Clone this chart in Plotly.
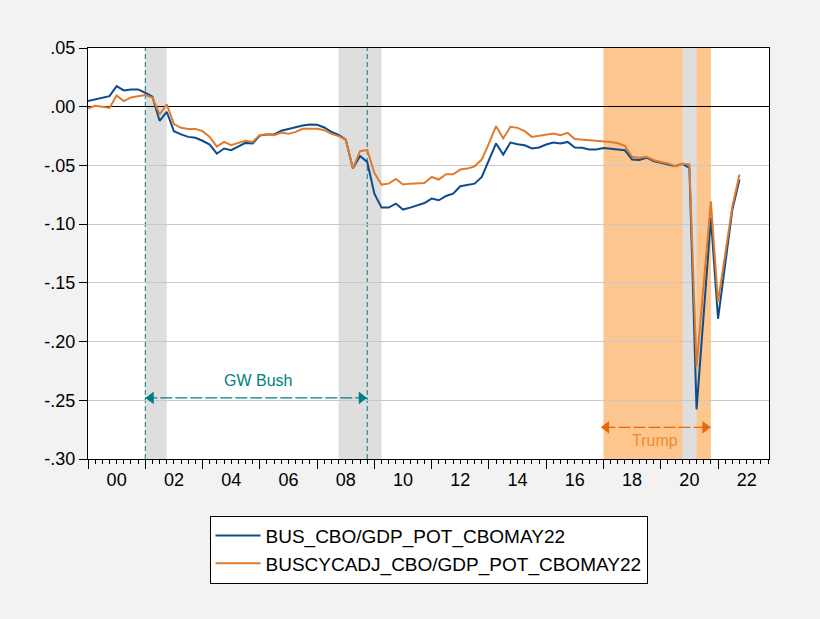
import plotly.graph_objects as go

# ---------------- data ----------------
start_year = 1999
end_year = 2021
quarters = [y + q / 4 for y in range(start_year, end_year + 1) for q in range(4)]

bus_cbo = [
    0.0048, 0.0062, 0.0071, 0.0090,
    0.0176, 0.0139, 0.0147, 0.0147,
    0.0119, 0.0085, -0.0120, -0.0043,
    -0.0208, -0.0236, -0.0257, -0.0265,
    -0.0290, -0.0322, -0.0400, -0.0356,
    -0.0370, -0.0340, -0.0308, -0.0313,
    -0.0245, -0.0236, -0.0236, -0.0205,
    -0.0188, -0.0177, -0.0160, -0.0151,
    -0.0154, -0.0177, -0.0214, -0.0240,
    -0.0280, -0.0526, -0.0419, -0.0470,
    -0.0740, -0.0859, -0.0859, -0.0825,
    -0.0876, -0.0859, -0.0842, -0.0820,
    -0.0782, -0.0797, -0.0760, -0.0740,
    -0.0677, -0.0666, -0.0655, -0.0598,
    -0.0450, -0.0313, -0.0407, -0.0305,
    -0.0319, -0.0328, -0.0356, -0.0347,
    -0.0322, -0.0305, -0.0313, -0.0300,
    -0.0347, -0.0350, -0.0365, -0.0365,
    -0.0352, -0.0357, -0.0363, -0.0371,
    -0.0449, -0.0454, -0.0434, -0.0463,
    -0.0477, -0.0491, -0.0506, -0.0486,
    -0.0520, -0.2577, -0.1750, -0.0949,
    -0.1806, -0.1350, -0.0877, -0.0620,
]

buscycadj_cbo = [
    -0.0015, 0.0008, 0.0000, -0.0010,
    0.0096, 0.0048, 0.0079, 0.0090,
    0.0099, 0.0079, -0.0066, 0.0020,
    -0.0148, -0.0180, -0.0189, -0.0189,
    -0.0208, -0.0257, -0.0340, -0.0300,
    -0.0328, -0.0308, -0.0290, -0.0300,
    -0.0240, -0.0236, -0.0242, -0.0220,
    -0.0231, -0.0214, -0.0188, -0.0188,
    -0.0188, -0.0200, -0.0231, -0.0250,
    -0.0280, -0.0526, -0.0379, -0.0368,
    -0.0564, -0.0663, -0.0655, -0.0615,
    -0.0663, -0.0655, -0.0655, -0.0649,
    -0.0598, -0.0620, -0.0575, -0.0575,
    -0.0535, -0.0527, -0.0507, -0.0450,
    -0.0313, -0.0166, -0.0270, -0.0171,
    -0.0180, -0.0208, -0.0257, -0.0248,
    -0.0242, -0.0228, -0.0242, -0.0223,
    -0.0276, -0.0280, -0.0285, -0.0293,
    -0.0291, -0.0300, -0.0311, -0.0334,
    -0.0426, -0.0434, -0.0426, -0.0454,
    -0.0471, -0.0483, -0.0506, -0.0486,
    -0.0491, -0.2214, -0.1506, -0.0806,
    -0.1663, -0.1250, -0.0849, -0.0577,
]

series_names = ["BUS_CBO/GDP_POT_CBOMAY22", "BUSCYCADJ_CBO/GDP_POT_CBOMAY22"]

# recessions (start, end) in decimal years (quarter positions)
recessions = [(2001.0, 2001.75), (2007.75, 2009.25), (2019.75, 2020.25)]
# administrations
bush_term = (2001.0, 2008.75)
trump_term = (2017.0, 2020.75)
bush_arrow_y = -0.248
trump_arrow_y = -0.273
bush_label = "GW Bush"
trump_label = "Trump"
bush_label_pos = (2004.93, -0.233)
trump_label_pos = (2018.8, -0.2845)

x_label_years = list(range(2000, 2023, 2))
x_label_text = [f"{y % 100:02d}" for y in x_label_years]
x_major_years = list(range(1999, 2023, 2))
y_tick_vals = [0.05, 0.0, -0.05, -0.10, -0.15, -0.20, -0.25, -0.30]
y_tick_text = [".05", ".00", "-.05", "-.10", "-.15", "-.20", "-.25", "-.30"]

# ---------------- styles ----------------
BLUE = "#0d4c8c"
ORANGE = "#e07b2d"
TEAL = "#008080"
TRUMP_FILL = "#fdc68f"
TRUMP_ARROW = "#e36c0a"
TRUMP_TEXT = "#f28c28"
REC_GRAY = "#dedede"
FONT = "Liberation Sans, Arial, sans-serif"
x_range = [1999.0, 2022.78]
minor_ticks = [start_year + i / 4 for i in range(int((x_range[1] - start_year) * 4) + 1)]
head_off = 0.2  # marker half-width in years
ARROW_DASH = "12px,3px"

fig = go.Figure()

fig.add_trace(go.Scatter(x=quarters, y=bus_cbo, mode="lines", name=series_names[0],
                         line=dict(color=BLUE, width=2)))
fig.add_trace(go.Scatter(x=quarters, y=buscycadj_cbo, mode="lines", name=series_names[1],
                         line=dict(color=ORANGE, width=2)))

# Bush double arrow
fig.add_trace(go.Scatter(x=[bush_term[0], bush_term[1]], y=[bush_arrow_y, bush_arrow_y],
                         mode="lines", line=dict(color=TEAL, width=1.3, dash=ARROW_DASH),
                         showlegend=False, hoverinfo="skip"))
fig.add_trace(go.Scatter(x=[bush_term[0] + head_off, bush_term[1] - head_off],
                         y=[bush_arrow_y, bush_arrow_y], mode="markers",
                         marker=dict(symbol=["triangle-left", "triangle-right"], size=11, color=TEAL),
                         showlegend=False, hoverinfo="skip"))
# Trump double arrow
fig.add_trace(go.Scatter(x=[trump_term[0], trump_term[1]], y=[trump_arrow_y, trump_arrow_y],
                         mode="lines", line=dict(color=TRUMP_ARROW, width=1.3, dash=ARROW_DASH),
                         showlegend=False, hoverinfo="skip"))
fig.add_trace(go.Scatter(x=[trump_term[0] + head_off - 0.1, trump_term[1] - head_off],
                         y=[trump_arrow_y, trump_arrow_y], mode="markers",
                         marker=dict(symbol=["triangle-left", "triangle-right"], size=11, color=TRUMP_ARROW),
                         showlegend=False, hoverinfo="skip"))

# invisible trace for overlay axis (major ticks)
fig.add_trace(go.Scatter(x=[x_range[0]], y=[0.0], xaxis="x2", mode="markers",
                         marker=dict(opacity=0), showlegend=False, hoverinfo="skip"))

shapes = []
shapes.append(dict(type="rect", xref="x", yref="paper", x0=trump_term[0], x1=trump_term[1],
                   y0=0, y1=1, fillcolor=TRUMP_FILL, line=dict(width=0), layer="below"))
for r0, r1 in recessions:
    shapes.append(dict(type="rect", xref="x", yref="paper", x0=r0, x1=r1, y0=0, y1=1,
                       fillcolor=REC_GRAY, line=dict(width=0), layer="below"))
for xv in bush_term:
    shapes.append(dict(type="line", xref="x", yref="paper", x0=xv, x1=xv, y0=0, y1=1,
                       line=dict(color=TEAL, width=1, dash="5px,3px"), layer="between"))

annotations = [
    dict(x=bush_label_pos[0], y=bush_label_pos[1], text=bush_label, showarrow=False,
         font=dict(color=TEAL, size=16, family=FONT)),
    dict(x=trump_label_pos[0], y=trump_label_pos[1], text=trump_label, showarrow=False,
         font=dict(color=TRUMP_TEXT, size=16, family=FONT)),
]

fig.update_layout(
    width=820, height=619,
    margin=dict(l=88, r=51, t=48, b=160),
    paper_bgcolor="#f2f2f2",
    plot_bgcolor="white",
    font=dict(family=FONT, color="black", size=18),
    shapes=shapes,
    annotations=annotations,
    showlegend=True,
    legend=dict(x=0.5, xanchor="center", y=-0.138, yanchor="top",
                bgcolor="white", bordercolor="black", borderwidth=1,
                font=dict(size=19, family=FONT, color="black"),
                itemwidth=45, tracegroupgap=0),
    xaxis=dict(range=x_range, tickvals=x_label_years, ticktext=x_label_text,
               ticks="outside", ticklen=4, tickcolor="black", tickwidth=1,
               showgrid=False, zeroline=False, showline=True, linecolor="black",
               linewidth=1, mirror=True, tickfont=dict(size=18),
               minor=dict(tickvals=minor_ticks, ticks="outside", ticklen=4,
                          tickcolor="black", showgrid=False)),
    xaxis2=dict(range=x_range, overlaying="x", anchor="y", side="bottom",
                tickvals=x_major_years, ticks="outside", ticklen=9, tickcolor="black",
                showticklabels=False, showgrid=False, zeroline=False, showline=False),
    yaxis=dict(range=[-0.30, 0.05], tickvals=y_tick_vals, ticktext=y_tick_text,
               ticks="outside", ticklen=8, tickcolor="black",
               showgrid=True, gridcolor="#c8c8c8", gridwidth=1,
               zeroline=True, zerolinecolor="black", zerolinewidth=1,
               showline=True, linecolor="black", linewidth=1, mirror=True,
               tickfont=dict(size=18)),
)

fig.write_html("out.html")
